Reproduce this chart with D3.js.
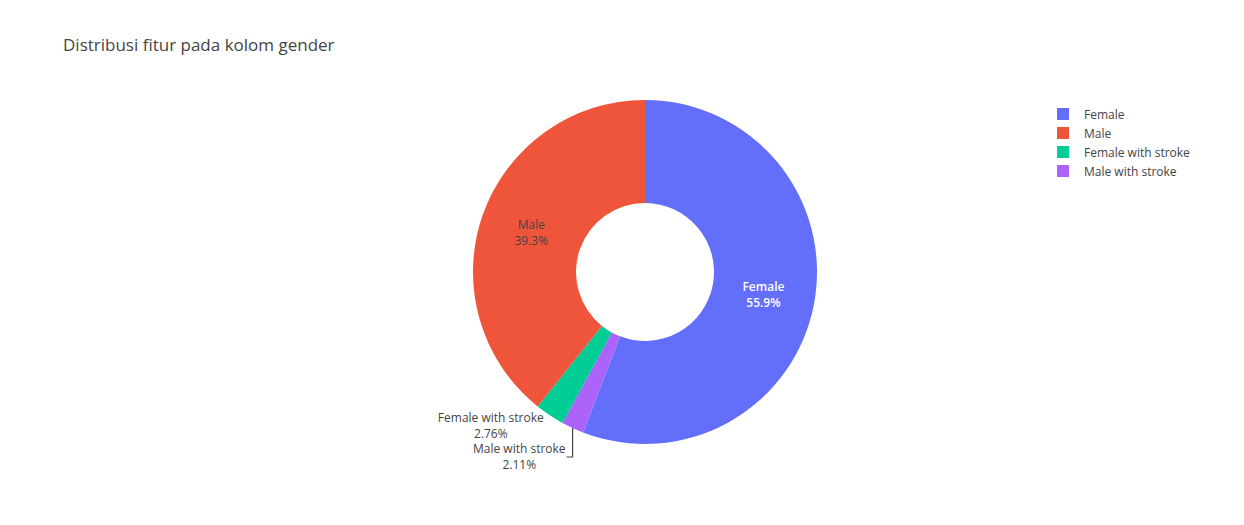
<!DOCTYPE html>
<html><head><meta charset="utf-8">
<script src="https://cdn.jsdelivr.net/npm/d3@7"></script>
<style>body{margin:0;background:#fff;font-family:"Open Sans",sans-serif;}</style>
</head><body><div id="chart"></div>
<script>
// data (in clockwise drawing order, starting at 12 o'clock)
const labels = ["Female", "Male with stroke", "Female with stroke", "Male"];
const values = [55.9, 2.11, 2.76, 39.3];
const colors = ["#636efa", "#ab63fa", "#00cc96", "#ef553b"];
const legendOrder = ["Female", "Male", "Female with stroke", "Male with stroke"];

const W = 1244, H = 525, cx = 645, cy = 272, R = 172, r0 = 69;
const svg = d3.select('#chart').append('svg').attr('width', W).attr('height', H);

svg.append('text').attr('x', 63).attr('y', 51).attr('fill', '#444')
  .style('font-size', '17px').text('Distribusi fitur pada kolom gender');

const data = labels.map((l, i) => ({label: l, value: values[i], color: colors[i]}));
const pie = d3.pie().sort(null).value(d => d.value);
const arcs = pie(data);
const arc = d3.arc().innerRadius(r0).outerRadius(R);
const g = svg.append('g').attr('transform', `translate(${cx},${cy})`);

g.selectAll('path').data(arcs).enter().append('path')
  .attr('d', arc).attr('fill', d => d.data.color)
  .attr('stroke', '#fff').attr('stroke-width', 0);

const fmt = d3.format('.3~r');
const mid = d => (d.startAngle + d.endAngle) / 2;
const pt = (d, rad) => [Math.sin(mid(d)) * rad, -Math.cos(mid(d)) * rad];

// inside labels for large slices
arcs.filter(d => d.value > 10).forEach(d => {
  const [x, y] = pt(d, (R + r0) / 2);
  const t = g.append('text').attr('text-anchor', 'middle')
    .attr('fill', d.data.label === 'Female' ? '#fff' : '#444')
    .style('font-size', '12px').style('font-weight', d.data.label === 'Female' ? 600 : 400);
  t.append('tspan').attr('x', x).attr('y', y - 3).text(d.data.label);
  t.append('tspan').attr('x', x).attr('y', y + 13).text(fmt(d.value) + '%');
});

// outside labels for small slices
arcs.filter(d => d.value < 10).forEach(d => {
  let [x, y] = pt(d, R);
  let tx, ty;
  if (d.data.label === 'Male with stroke') {
    const ly = y + 29;
    g.append('path').attr('d', `M${x},${y}V${ly}H${x - 6}`)
      .attr('fill', 'none').attr('stroke', '#444').attr('stroke-width', 1.2);
    tx = x - 7; ty = ly;
  } else {
    tx = x - 6; ty = y + 11;
  }
  const t = g.append('text').attr('text-anchor', 'end').attr('fill', '#444').style('font-size', '12px');
  t.append('tspan').attr('x', tx).attr('y', ty - 4).text(d.data.label);
  t.append('tspan').attr('x', tx - 29).attr('y', ty + 12).text(fmt(d.value) + '%');
});
// center percentage lines under their label
g.selectAll('text').filter(function(){return this.getAttribute('text-anchor')==='end';}).each(function(){
  const sp = d3.select(this).selectAll('tspan').nodes();
  const w0 = sp[0].getComputedTextLength();
  const x0 = +sp[0].getAttribute('x');
  d3.select(sp[1]).attr('x', x0 - w0 / 2).attr('text-anchor', 'middle');
});

// legend
const lg = svg.append('g').attr('transform', 'translate(1057,114)');
legendOrder.forEach((l, i) => {
  const c = colors[labels.indexOf(l)];
  lg.append('rect').attr('x', 0).attr('y', i * 19 - 6).attr('width', 12).attr('height', 12).attr('fill', c);
  lg.append('text').attr('x', 27).attr('y', i * 19 + 4.5).attr('fill', '#444')
    .style('font-size', '12px').text(l);
});
</script></body></html>
